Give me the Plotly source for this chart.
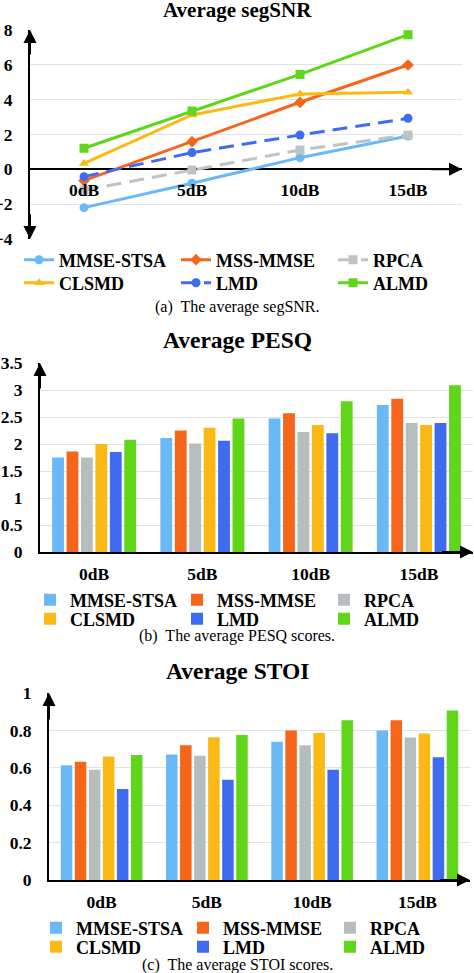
import plotly.graph_objects as go

W, H = 474, 973

categories = ["0dB", "5dB", "10dB", "15dB"]
methods = ["MMSE-STSA", "MSS-MMSE", "RPCA", "CLSMD", "LMD", "ALMD"]

segsnr_mmse_stsa = [-2.2, -0.8, 0.67, 1.91]
segsnr_mss_mmse = [-0.65, 1.59, 3.85, 5.99]
segsnr_rpca = [-1.2, -0.04, 1.11, 1.97]
segsnr_clsmd = [0.34, 3.12, 4.33, 4.42]
segsnr_lmd = [-0.42, 0.96, 1.97, 2.93]
segsnr_almd = [1.21, 3.35, 5.45, 7.73]

pesq_mmse_stsa = [1.75, 2.11, 2.47, 2.72]
pesq_mss_mmse = [1.86, 2.25, 2.57, 2.84]
pesq_rpca = [1.75, 2.01, 2.22, 2.39]
pesq_clsmd = [2.00, 2.30, 2.35, 2.35]
pesq_lmd = [1.85, 2.06, 2.20, 2.39]
pesq_almd = [2.08, 2.47, 2.79, 3.09]

stoi_mmse_stsa = [0.614, 0.671, 0.739, 0.800]
stoi_mss_mmse = [0.632, 0.721, 0.800, 0.854]
stoi_rpca = [0.589, 0.664, 0.721, 0.762]
stoi_clsmd = [0.660, 0.764, 0.786, 0.784]
stoi_lmd = [0.486, 0.536, 0.589, 0.657]
stoi_almd = [0.668, 0.775, 0.854, 0.907]

segsnr_ticks = [-4, -2, 0, 2, 4, 6, 8]
pesq_ticks = [0, 0.5, 1, 1.5, 2, 2.5, 3, 3.5]
pesq_tick_labels = ["0", "0.5", "1", "1.5", "2", "2.5", "3", "3.5"]
stoi_ticks = [0, 0.2, 0.4, 0.6, 0.8, 1]
stoi_tick_labels = ["0", "0.2", "0.4", "0.6", "0.8", "1"]

colors = ["#6BB8F7", "#F5661A", "#B6BDBE", "#FBB916", "#3F6BF0", "#5FD619"]
line_colors = ["#6BB8F7", "#F5661A", "#BEC3C4", "#FBB916", "#3F6BF0", "#5FD619"]
symbols = ["circle", "diamond", "square", "triangle-up", "circle", "square"]
dashes = ["solid", "solid", "15px,8px", "solid", "15px,8px", "solid"]

segsnr = [segsnr_mmse_stsa, segsnr_mss_mmse, segsnr_rpca, segsnr_clsmd, segsnr_lmd, segsnr_almd]
pesq = [pesq_mmse_stsa, pesq_mss_mmse, pesq_rpca, pesq_clsmd, pesq_lmd, pesq_almd]
stoi = [stoi_mmse_stsa, stoi_mss_mmse, stoi_rpca, stoi_clsmd, stoi_lmd, stoi_almd]

SERIF = "Liberation Serif, Times New Roman, serif"


def py(px):
    return 1 - px / H


def px_x(px):
    return px / W


# legend ids: row 1 (first three methods) / row 2 (last three) for each panel
leg_ids = [("legend", "legend2"), ("legend3", "legend4"), ("legend5", "legend6")]

fig = go.Figure()

for i, m in enumerate(methods):
    fig.add_trace(go.Scatter(
        x=categories, y=segsnr[i], name=m, mode="lines+markers",
        line=dict(color=line_colors[i], width=3, dash=dashes[i]),
        marker=dict(symbol=symbols[i], size=9, color=line_colors[i]),
        xaxis="x", yaxis="y", legend=leg_ids[0][i // 3]))

for i, m in enumerate(methods):
    fig.add_trace(go.Bar(
        x=categories, y=pesq[i], name=m, marker=dict(color=colors[i], line=dict(width=0)),
        xaxis="x2", yaxis="y2", legend=leg_ids[1][i // 3]))

for i, m in enumerate(methods):
    fig.add_trace(go.Bar(
        x=categories, y=stoi[i], name=m, marker=dict(color=colors[i], line=dict(width=0)),
        xaxis="x3", yaxis="y3", legend=leg_ids[2][i // 3]))

# panel geometry (pixels)
p1 = dict(x0=30, x1=462, ytop=30, ybot=239, rng=[-4, 8])
p2 = dict(x0=40, x1=473, ytop=363, ybot=552, rng=[0, 3.5])
p3 = dict(x0=49, x1=470, ytop=693, ybot=880, rng=[0, 1])

tickfont = dict(family=SERIF, size=17.5, color="black", weight="bold")
grid = "#E3E3E3"

y1dom = [py(p1["ybot"]), py(p1["ytop"])]
zero_pos = y1dom[0] + (0 - p1["rng"][0]) / (p1["rng"][1] - p1["rng"][0]) * (y1dom[1] - y1dom[0])

common = dict(automargin=False, ticks="", tickfont=tickfont)

fig.update_layout(
    width=W, height=H,
    margin=dict(l=0, r=0, t=0, b=0, autoexpand=False),
    paper_bgcolor="white", plot_bgcolor="white",
    font=dict(family=SERIF, color="black"),
    barmode="group", bargap=0.2, bargroupgap=0.18,
    xaxis=dict(domain=[px_x(p1["x0"]), px_x(p1["x1"])], type="category", range=[-0.5, 3.5],
               anchor="free", position=zero_pos, showline=False, showgrid=False,
               ticklabelstandoff=8, zeroline=False, **common),
    yaxis=dict(domain=y1dom, range=p1["rng"], tickvals=segsnr_ticks, anchor="x",
               showline=True, linecolor="black", linewidth=2, gridcolor=grid, gridwidth=1,
               zeroline=True, zerolinecolor="black", zerolinewidth=2,
               ticklabelstandoff=12, **common),
    xaxis2=dict(domain=[px_x(p2["x0"]), px_x(p2["x1"])], type="category", range=[-0.5, 3.5],
                anchor="y2", showline=True, linecolor="black", linewidth=2,
                ticklabelstandoff=5, **common),
    yaxis2=dict(domain=[py(p2["ybot"]), py(p2["ytop"])], range=p2["rng"], anchor="x2",
                tickvals=pesq_ticks, ticktext=pesq_tick_labels,
                showline=True, linecolor="black", linewidth=2, gridcolor=grid, gridwidth=1,
                zeroline=False, ticklabelstandoff=12, **common),
    xaxis3=dict(domain=[px_x(p3["x0"]), px_x(p3["x1"])], type="category", range=[-0.5, 3.5],
                anchor="y3", showline=True, linecolor="black", linewidth=2,
                ticklabelstandoff=5, **common),
    yaxis3=dict(domain=[py(p3["ybot"]), py(p3["ytop"])], range=p3["rng"], anchor="x3",
                tickvals=stoi_ticks, ticktext=stoi_tick_labels,
                showline=True, linecolor="black", linewidth=2, gridcolor=grid, gridwidth=1,
                zeroline=False, ticklabelstandoff=12, **common),
)

legfont = dict(family=SERIF, size=18, color="black", weight="bold")
# (x start px, row1 centre px, row2 centre px, entrywidth)
leg_geo = [(19, 260, 283, 112), (30, 600, 619, 102), (36, 928, 947, 102)]
for (id1, id2), (lx, r1, r2, ew) in zip(leg_ids, leg_geo):
    for lid, ry in ((id1, r1), (id2, r2)):
        fig.update_layout({lid: dict(orientation="h", x=px_x(lx), xanchor="left", y=py(ry),
                                     yanchor="middle", entrywidth=ew, font=legfont,
                                     bgcolor="rgba(0,0,0,0)", traceorder="normal")})

ann = []
titles = [("Average segSNR", 10, 21), ("Average PESQ", 340, 23.5), ("Average STOI", 671, 23.5)]
for t, y, s in titles:
    ann.append(dict(text="<b>%s</b>" % t, x=0.5, y=py(y), xref="paper", yref="paper",
                    xanchor="center", yanchor="middle", showarrow=False,
                    font=dict(family=SERIF, size=s, color="black")))
captions = [("(a)  The average segSNR.", 307), ("(b)  The average PESQ scores.", 636),
            ("(c)  The average STOI scores.", 965)]
for t, y in captions:
    ann.append(dict(text=t, x=0.5, y=py(y), xref="paper", yref="paper",
                    xanchor="center", yanchor="middle", showarrow=False,
                    font=dict(family=SERIF, size=16, color="black")))

arrow = dict(text="", showarrow=True, arrowhead=2, arrowsize=1.3, arrowwidth=2,
             arrowcolor="black", standoff=0)
# panel 1 arrows
ann.append(dict(arrow, xref="x", yref="y", axref="x", ayref="y", x=-0.5, y=8, ax=-0.5, ay=6.5))
ann.append(dict(arrow, xref="x", yref="y", axref="x", ayref="y", x=-0.5, y=-4, ax=-0.5, ay=-2.5))
ann.append(dict(arrow, xref="x", yref="y", axref="x", ayref="y", x=3.5, y=0, ax=3.2, ay=0))
# panel 2 arrows
ann.append(dict(arrow, xref="x2", yref="y2", axref="x2", ayref="y2", x=-0.5, y=3.5, ax=-0.5, ay=3.0))
ann.append(dict(arrow, xref="x2", yref="y2", axref="x2", ayref="y2", x=3.5, y=0, ax=3.2, ay=0))
# panel 3 arrows
ann.append(dict(arrow, xref="x3", yref="y3", axref="x3", ayref="y3", x=-0.5, y=1, ax=-0.5, ay=0.85))
ann.append(dict(arrow, xref="x3", yref="y3", axref="x3", ayref="y3", x=3.5, y=0, ax=3.2, ay=0))

fig.update_layout(annotations=ann)

fig.write_html("out.html", config={"displayModeBar": False},
               post_script="document.body.style.margin='0';document.body.style.overflow='hidden';")
